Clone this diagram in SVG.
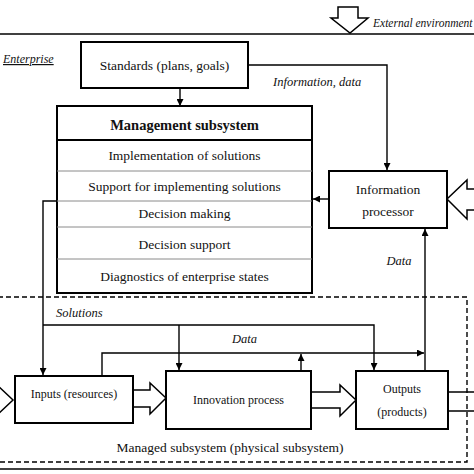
<svg xmlns="http://www.w3.org/2000/svg" width="474" height="474" viewBox="0 0 474 474">
<defs>
<marker id="ah" viewBox="0 0 10 10" refX="10" refY="5" markerWidth="8" markerHeight="7" markerUnits="userSpaceOnUse" orient="auto"><path d="M0,0 L10,5 L0,10 z" fill="#000"/></marker>
<style>
text{font-family:"Liberation Serif","Times New Roman",serif;fill:#111;text-anchor:middle}
.box{fill:#fff;stroke:#000;stroke-width:2}
.c{fill:none;stroke:#000;stroke-width:1.4}
.sep{stroke:#8a8a8a;stroke-width:1}
.it{font-style:italic}
.l{text-anchor:start}
.hol{fill:#fff;stroke:#000;stroke-width:1.5;stroke-linejoin:miter}
.dash{fill:none;stroke:#000;stroke-width:1.4;stroke-dasharray:5,3}
.t{font-size:13.5px}
.s{font-size:12px}
</style>
</defs>
<rect width="474" height="474" fill="#fff"/>

<g id="frame">
<line x1="0" y1="34" x2="474" y2="34" stroke="#000" stroke-width="1.5"/>
<polygon class="hol" points="338,7 358,7 358,18 368,18 350,33 331,18 338,18"/>
<text class="it l" x="373" y="27" style="font-size:11.5px">External environment</text>
<text class="it l" x="3" y="63" style="font-size:12px" text-decoration="underline">Enterprise</text>
<path class="dash" d="M-2,297 H467 V462 H-2"/>
<line x1="0" y1="469" x2="474" y2="469" stroke="#000" stroke-width="1.5"/>
<text class="t" x="230" y="452">Managed subsystem (physical subsystem)</text>
</g>

<g id="connectors">
<path class="c" d="M248,65 H387 V170" marker-end="url(#ah)"/>
<path class="c" d="M180,88 V106" marker-end="url(#ah)"/>
<path class="c" d="M329,199 H313" marker-end="url(#ah)"/>
<path class="c" d="M425,371 V229" marker-end="url(#ah)"/>
<path class="c" d="M57,201 H43 V375" marker-end="url(#ah)"/>
<path class="c" d="M43,325 H374 V370" marker-end="url(#ah)"/>
<path class="c" d="M179,325 V370" marker-end="url(#ah)"/>
<path class="c" d="M102,376 V353 H424" marker-end="url(#ah)"/>
<path class="c" d="M301,371 V354" marker-end="url(#ah)"/>
<path class="c" d="M448,392 H476 M448,411 H476"/>
<polygon class="hol" points="476,189 467,189 467,180 447,199 467,219 467,210 476,210"/>
<polygon class="hol" points="-5,383 13,400 -5,417"/>
<polygon class="hol" points="133,390 150,390 150,383 166,398 150,414 150,407 133,407"/>
<polygon class="hol" points="311,392 340,392 340,385 356,400 340,416 340,408 311,408"/>
<text class="it l" x="273" y="86" style="font-size:12.5px">Information, data</text>
<text class="it" x="399" y="265" style="font-size:12.5px">Data</text>
<text class="it l" x="56" y="317" style="font-size:12.5px">Solutions</text>
<text class="it l" x="232" y="343" style="font-size:12.5px">Data</text>
</g>

<g id="standards">
<rect class="box" x="81" y="42" width="167" height="46"/>
<text class="t" x="164.5" y="70">Standards (plans, goals)</text>
</g>

<g id="management">
<rect class="box" x="57" y="106" width="255" height="187"/>
<line x1="57" y1="140" x2="312" y2="140" stroke="#000" stroke-width="2"/>
<line class="sep" x1="57" y1="171" x2="312" y2="171"/>
<line class="sep" x1="57" y1="201" x2="312" y2="201"/>
<line class="sep" x1="57" y1="227" x2="312" y2="227"/>
<line class="sep" x1="57" y1="259" x2="312" y2="259"/>
<text x="184.5" y="130" style="font-size:14.5px;font-weight:bold">Management subsystem</text>
<text class="t" x="184.5" y="160">Implementation of solutions</text>
<text class="t" x="184.5" y="191">Support for implementing solutions</text>
<text class="t" x="184.5" y="218">Decision making</text>
<text class="t" x="184.5" y="249">Decision support</text>
<text class="t" x="184.5" y="281">Diagnostics of enterprise states</text>
</g>

<g id="info-processor">
<rect class="box" x="329" y="171" width="118" height="57"/>
<text class="t" x="388" y="194">Information</text>
<text class="t" x="388" y="216">processor</text>
</g>

<g id="inputs">
<rect class="box" x="15" y="376" width="118" height="47"/>
<text class="s" x="74" y="398">Inputs (resources)</text>
</g>

<g id="innovation">
<rect class="box" x="166" y="371" width="145" height="58"/>
<text class="s" x="238.5" y="404">Innovation process</text>
</g>

<g id="outputs">
<rect class="box" x="356" y="371" width="92" height="58"/>
<text class="s" x="402" y="393">Outputs</text>
<text class="s" x="402" y="416">(products)</text>
</g>
</svg>
